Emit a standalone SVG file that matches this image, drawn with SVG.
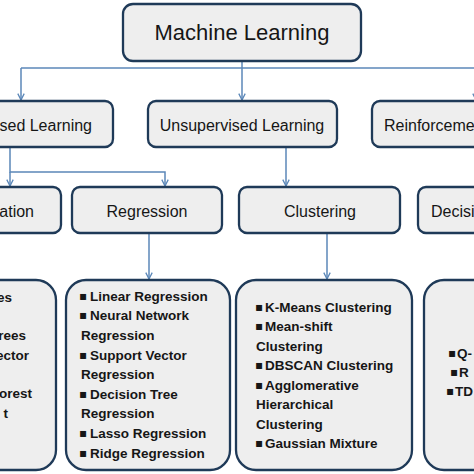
<svg xmlns="http://www.w3.org/2000/svg" width="474" height="474" viewBox="0 0 474 474">
<style>
.box{fill:#eeeeee;stroke:#1f3a58;stroke-width:2.3}
.h{font-family:"Liberation Sans",Arial,sans-serif;font-size:16px;fill:#161616;text-anchor:middle}
.t{font-family:"Liberation Sans",Arial,sans-serif;font-size:13.5px;font-weight:bold;fill:#161616}
.e{text-anchor:end}
.b{font-family:"DejaVu Sans",sans-serif;font-size:12px;fill:#161616}
.c{fill:none;stroke:#5b87b8;stroke-width:1.5}
</style>
<defs>
<marker id="ar" viewBox="0 0 10 10" refX="9" refY="5" markerWidth="8" markerHeight="8" markerUnits="userSpaceOnUse" orient="auto">
<path d="M1,1 L9,5 L1,9" fill="none" stroke="#5b87b8" stroke-width="1.6"/>
</marker>
</defs>
<rect width="474" height="474" fill="#ffffff"/>
<g id="connectors">
<path class="c" d="M242 61 V100" marker-end="url(#ar)"/>
<path class="c" d="M21 68 H474"/>
<path class="c" d="M21 68 V100" marker-end="url(#ar)"/>
<path class="c" d="M476 68 V100" marker-end="url(#ar)"/>
<path class="c" d="M10 147 V172 H165 V186" marker-end="url(#ar)"/>
<path class="c" d="M10 172 V186" marker-end="url(#ar)"/>
<path class="c" d="M286 147 V186" marker-end="url(#ar)"/>
<path class="c" d="M149 233 V279" marker-end="url(#ar)"/>
<path class="c" d="M327 233 V279" marker-end="url(#ar)"/>
</g>
<g id="machine-learning">
<rect class="box" x="123" y="4" width="238" height="57" rx="10"/>
<text class="h" x="242" y="40" style="font-size:22px">Machine Learning</text>
</g>
<g id="supervised">
<rect class="box" x="-120" y="101" width="233" height="46" rx="8"/>
<text class="h e" x="92" y="131">ised Learning</text>
</g>
<g id="unsupervised">
<rect class="box" x="148" y="101" width="189" height="46" rx="8"/>
<text class="h" x="242" y="131">Unsupervised Learning</text>
</g>
<g id="reinforcement">
<rect class="box" x="372" y="101" width="200" height="46" rx="8"/>
<text class="h" x="384" y="131" style="text-anchor:start">Reinforceme</text>
</g>
<g id="classification">
<rect class="box" x="-100" y="187" width="161" height="46" rx="8"/>
<text class="h e" x="34" y="217">ation</text>
</g>
<g id="regression">
<rect class="box" x="72" y="187" width="150" height="46" rx="8"/>
<text class="h" x="147" y="217">Regression</text>
</g>
<g id="clustering">
<rect class="box" x="239" y="187" width="161" height="46" rx="8"/>
<text class="h" x="320" y="217">Clustering</text>
</g>
<g id="decision">
<rect class="box" x="418" y="187" width="150" height="46" rx="8"/>
<text class="h" x="431" y="217" style="text-anchor:start">Decisi</text>
</g>
<g id="classification-list">
<rect class="box" x="-150" y="280" width="206" height="190" rx="20"/>
<text class="t e" x="12" y="302">es</text>
<text class="t e" x="26" y="340">rees</text>
<text class="t e" x="29" y="360">ector</text>
<text class="t e" x="32" y="398">orest</text>
<text class="t e" x="8" y="418">t</text>
</g>
<g id="regression-list">
<rect class="box" x="66" y="280" width="164" height="190" rx="20"/>
<text class="b" x="79" y="300">▪</text><text class="t" x="90" y="301">Linear Regression</text>
<text class="b" x="79" y="319">▪</text><text class="t" x="90" y="320">Neural Network</text>
<text class="t" x="81" y="340">Regression</text>
<text class="b" x="79" y="359">▪</text><text class="t" x="90" y="360">Support  Vector</text>
<text class="t" x="81" y="379">Regression</text>
<text class="b" x="79" y="398">▪</text><text class="t" x="90" y="399">Decision Tree</text>
<text class="t" x="81" y="418">Regression</text>
<text class="b" x="79" y="437">▪</text><text class="t" x="90" y="438">Lasso Regression</text>
<text class="b" x="79" y="457">▪</text><text class="t" x="90" y="458">Ridge Regression</text>
</g>
<g id="clustering-list">
<rect class="box" x="236" y="280" width="176" height="190" rx="20"/>
<text class="b" x="255" y="311">▪</text><text class="t" x="265" y="312">K-Means Clustering</text>
<text class="b" x="255" y="330">▪</text><text class="t" x="265" y="331">Mean-shift</text>
<text class="t" x="256" y="351">Clustering</text>
<text class="b" x="255" y="369">▪</text><text class="t" x="265" y="370">DBSCAN Clustering</text>
<text class="b" x="255" y="389">▪</text><text class="t" x="265" y="390">Agglomerative</text>
<text class="t" x="256" y="409">Hierarchical</text>
<text class="t" x="256" y="429">Clustering</text>
<text class="b" x="255" y="447">▪</text><text class="t" x="265" y="448">Gaussian Mixture</text>
</g>
<g id="reinforcement-list">
<rect class="box" x="424" y="280" width="150" height="190" rx="20"/>
<text class="b" x="448" y="357">▪</text><text class="t" x="457" y="358">Q-</text>
<text class="b" x="450" y="376">▪</text><text class="t" x="459" y="377">R</text>
<text class="b" x="446" y="395">▪</text><text class="t" x="455" y="396">TD</text>
</g>
</svg>
